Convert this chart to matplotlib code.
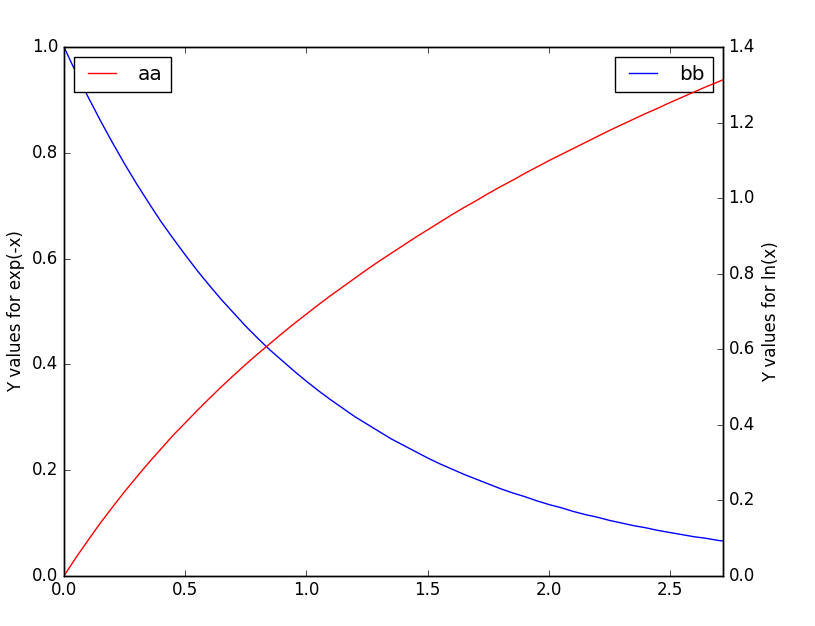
import matplotlib
matplotlib.use('Agg')
import matplotlib.pyplot as plt

plt.style.use('classic')

# values (every 0.05 along x, last point at x = e)
x = [0.00, 0.05, 0.10, 0.15, 0.20, 0.25, 0.30, 0.35, 0.40, 0.45,
     0.50, 0.55, 0.60, 0.65, 0.70, 0.75, 0.80, 0.85, 0.90, 0.95,
     1.00, 1.05, 1.10, 1.15, 1.20, 1.25, 1.30, 1.35, 1.40, 1.45,
     1.50, 1.55, 1.60, 1.65, 1.70, 1.75, 1.80, 1.85, 1.90, 1.95,
     2.00, 2.05, 2.10, 2.15, 2.20, 2.25, 2.30, 2.35, 2.40, 2.45,
     2.50, 2.55, 2.60, 2.65, 2.70, 2.718]
y_exp = [1.000, 0.951, 0.905, 0.861, 0.819, 0.779, 0.741, 0.705, 0.670, 0.638,
         0.607, 0.577, 0.549, 0.522, 0.497, 0.472, 0.449, 0.427, 0.407, 0.387,
         0.368, 0.350, 0.333, 0.317, 0.301, 0.287, 0.273, 0.259, 0.247, 0.235,
         0.223, 0.212, 0.202, 0.192, 0.183, 0.174, 0.165, 0.157, 0.150, 0.142,
         0.135, 0.129, 0.122, 0.116, 0.111, 0.105, 0.100, 0.095, 0.091, 0.086,
         0.082, 0.078, 0.074, 0.071, 0.067, 0.066]
y_ln = [0.000, 0.049, 0.095, 0.140, 0.182, 0.223, 0.262, 0.300, 0.336, 0.372,
        0.405, 0.438, 0.470, 0.501, 0.531, 0.560, 0.588, 0.615, 0.642, 0.668,
        0.693, 0.718, 0.742, 0.765, 0.788, 0.811, 0.833, 0.854, 0.875, 0.896,
        0.916, 0.936, 0.956, 0.975, 0.993, 1.012, 1.030, 1.047, 1.065, 1.082,
        1.099, 1.115, 1.131, 1.147, 1.163, 1.179, 1.194, 1.209, 1.224, 1.238,
        1.253, 1.267, 1.281, 1.295, 1.308, 1.313]

fig, ax1 = plt.subplots(figsize=(8.15, 6.26), dpi=100)
fig.subplots_adjust(left=0.0785, right=0.887, bottom=0.08, top=0.925)

ax1.plot(x, y_exp, 'b', label='bb')
ax1.set_ylabel('Y values for exp(-x)')
ax1.set_xlim(0, x[-1])
ax1.set_ylim(0, 1.0)
ax1.legend(loc='upper right')

ax2 = ax1.twinx()
ax2.plot(x, y_ln, 'r', label='aa')
ax2.set_ylabel('Y values for ln(x)')
ax2.set_xlim(0, x[-1])
ax2.set_ylim(0, 1.4)
ax2.legend(loc='upper left')

fig.savefig('out.png', dpi=100)
